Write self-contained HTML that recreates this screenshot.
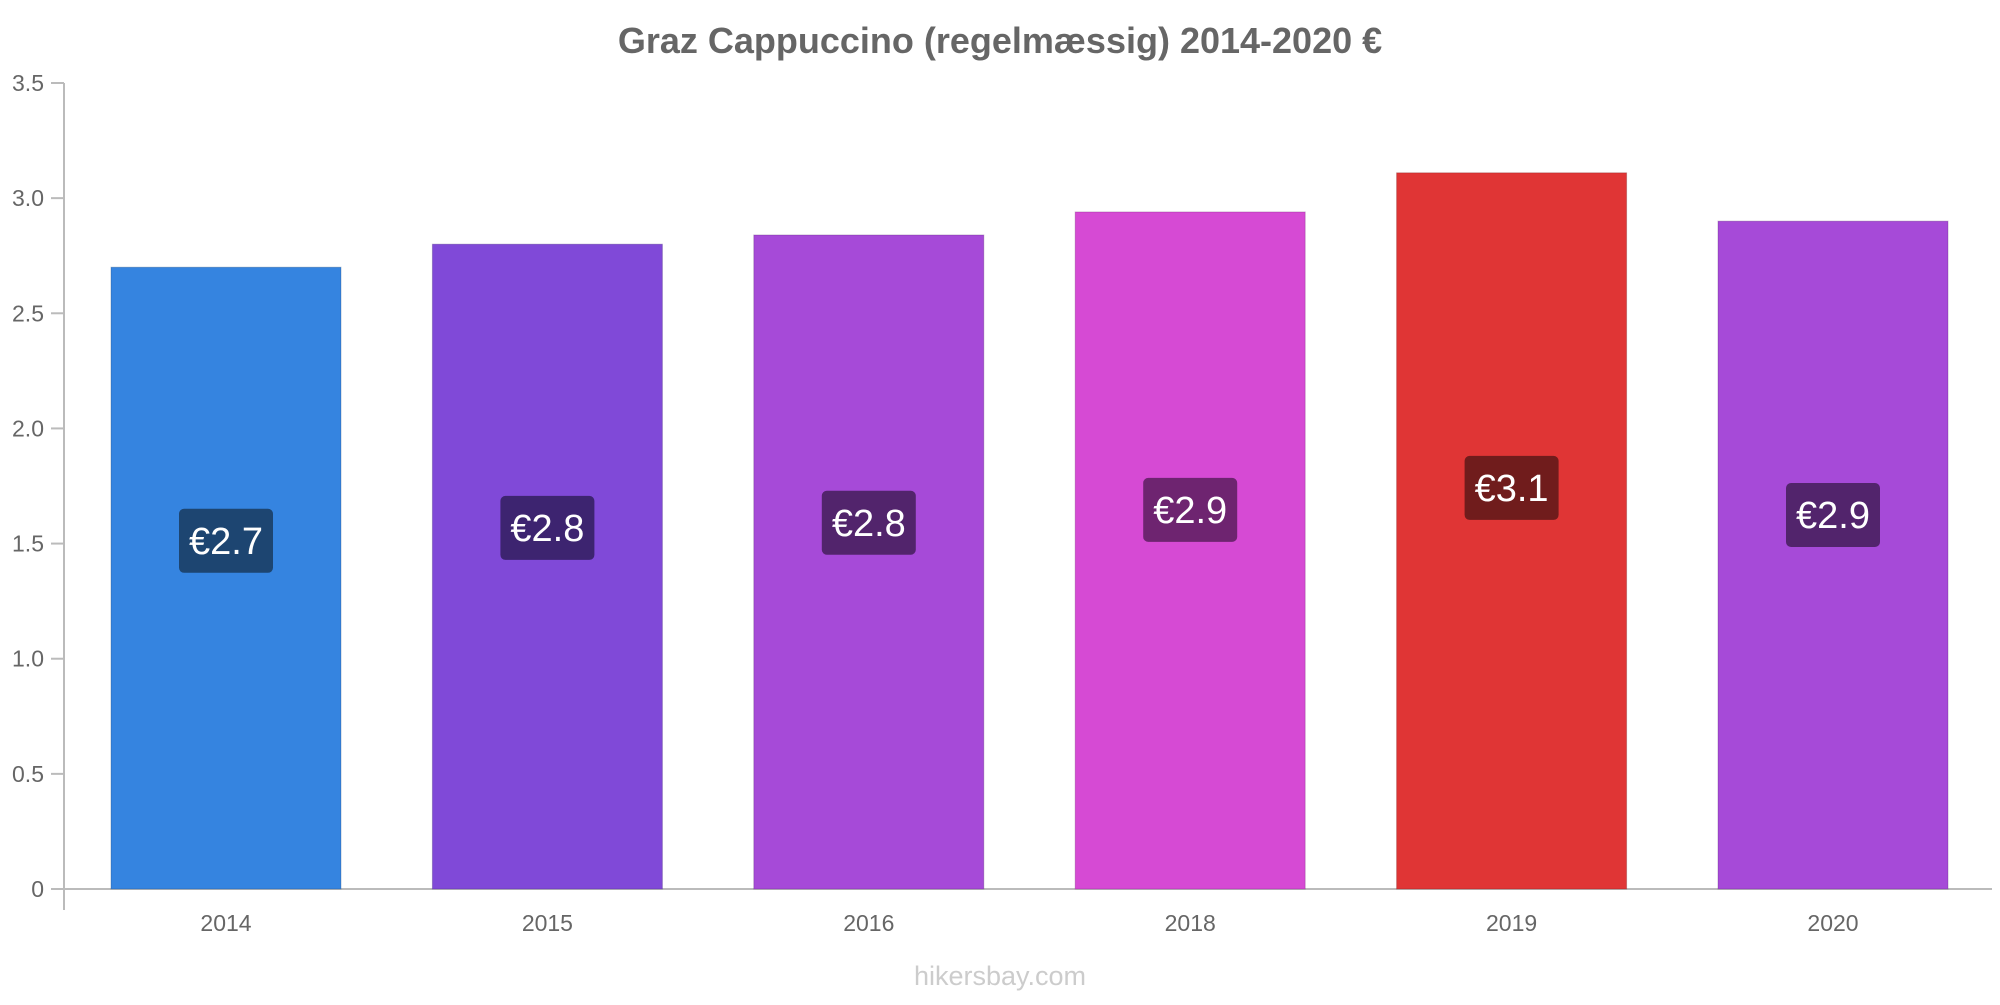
<!DOCTYPE html>
<html><head><meta charset="utf-8"><style>
body{margin:0;background:#fff;font-family:"Liberation Sans",sans-serif}
</style></head><body>
<svg id="c" width="2000" height="1000" xmlns="http://www.w3.org/2000/svg">
<text x="1000" y="53" text-anchor="middle" font-size="36" font-weight="bold" fill="#666">Graz Cappuccino (regelmæssig) 2014-2020 €</text>
<text x="1000" y="985" text-anchor="middle" font-size="27" fill="#ccc">hikersbay.com</text>
<g id="g"></g>
</svg>
<script>
const categories=["2014","2015","2016","2018","2019","2020"];
const values=[2.7,2.8,2.84,2.94,3.11,2.9];
const labels=["€2.7","€2.8","€2.8","€2.9","€3.1","€2.9"];
const ticks=[0,0.5,1,1.5,2,2.5,3,3.5];
const tickLabels=["0","0.5","1.0","1.5","2.0","2.5","3.0","3.5"];
const colors=["#3584e0","#8049d8","#a64ad8","#d64ad4","#e03535","#a64ad8"];
const dark=["#1d4571","#3d2470","#52246c","#6e2470","#701c1c","#52246c"];
const NS="http://www.w3.org/2000/svg";
const g=document.getElementById('g');
const y0=889,yTop=83,vMax=3.5;
const y=v=>y0-(v/vMax)*(y0-yTop);
const x=i=>111+i*321.4;
const bw=230;
function mk(t,a){const e=document.createElementNS(NS,t);for(const k in a)e.setAttribute(k,a[k]);g.appendChild(e);return e;}
let ax=mk('line',{x1:64,y1:83,x2:64,y2:910,stroke:'#bbb','stroke-width':2});


let xa=mk('line',{x1:51,y1:y0,x2:1992,y2:y0,stroke:'#bbb','stroke-width':2});


ticks.forEach((t,i)=>{
 const tm=mk('line',{x1:51,y1:y(t),x2:64,y2:y(t),stroke:'#bbb','stroke-width':2});
 
 
 const tl=mk('text',{x:44,y:y(t)+8,'text-anchor':'end','font-size':23,fill:'#666'});
 tl.textContent=tickLabels[i];
 
 
});
categories.forEach((c,i)=>{
 const b=mk('rect',{x:x(i),y:y(values[i]),width:bw,height:y0-y(values[i]),fill:colors[i],stroke:dark[i],'stroke-opacity':0.3});
 
 
 const cy=y(values[i]*0.56);
 const lb=mk('rect',{x:x(i)+bw/2-47,y:cy-32,width:94,height:64,rx:5,fill:dark[i]});
 
 
 const lt=mk('text',{x:x(i)+bw/2,y:cy+13,'text-anchor':'middle','font-size':38,fill:'#fff'});
 lt.textContent=labels[i];
 
 
 const xl=mk('text',{x:x(i)+bw/2,y:931,'text-anchor':'middle','font-size':23,fill:'#666'});
 xl.textContent=c;
 
 
});
</script>
</body></html>
